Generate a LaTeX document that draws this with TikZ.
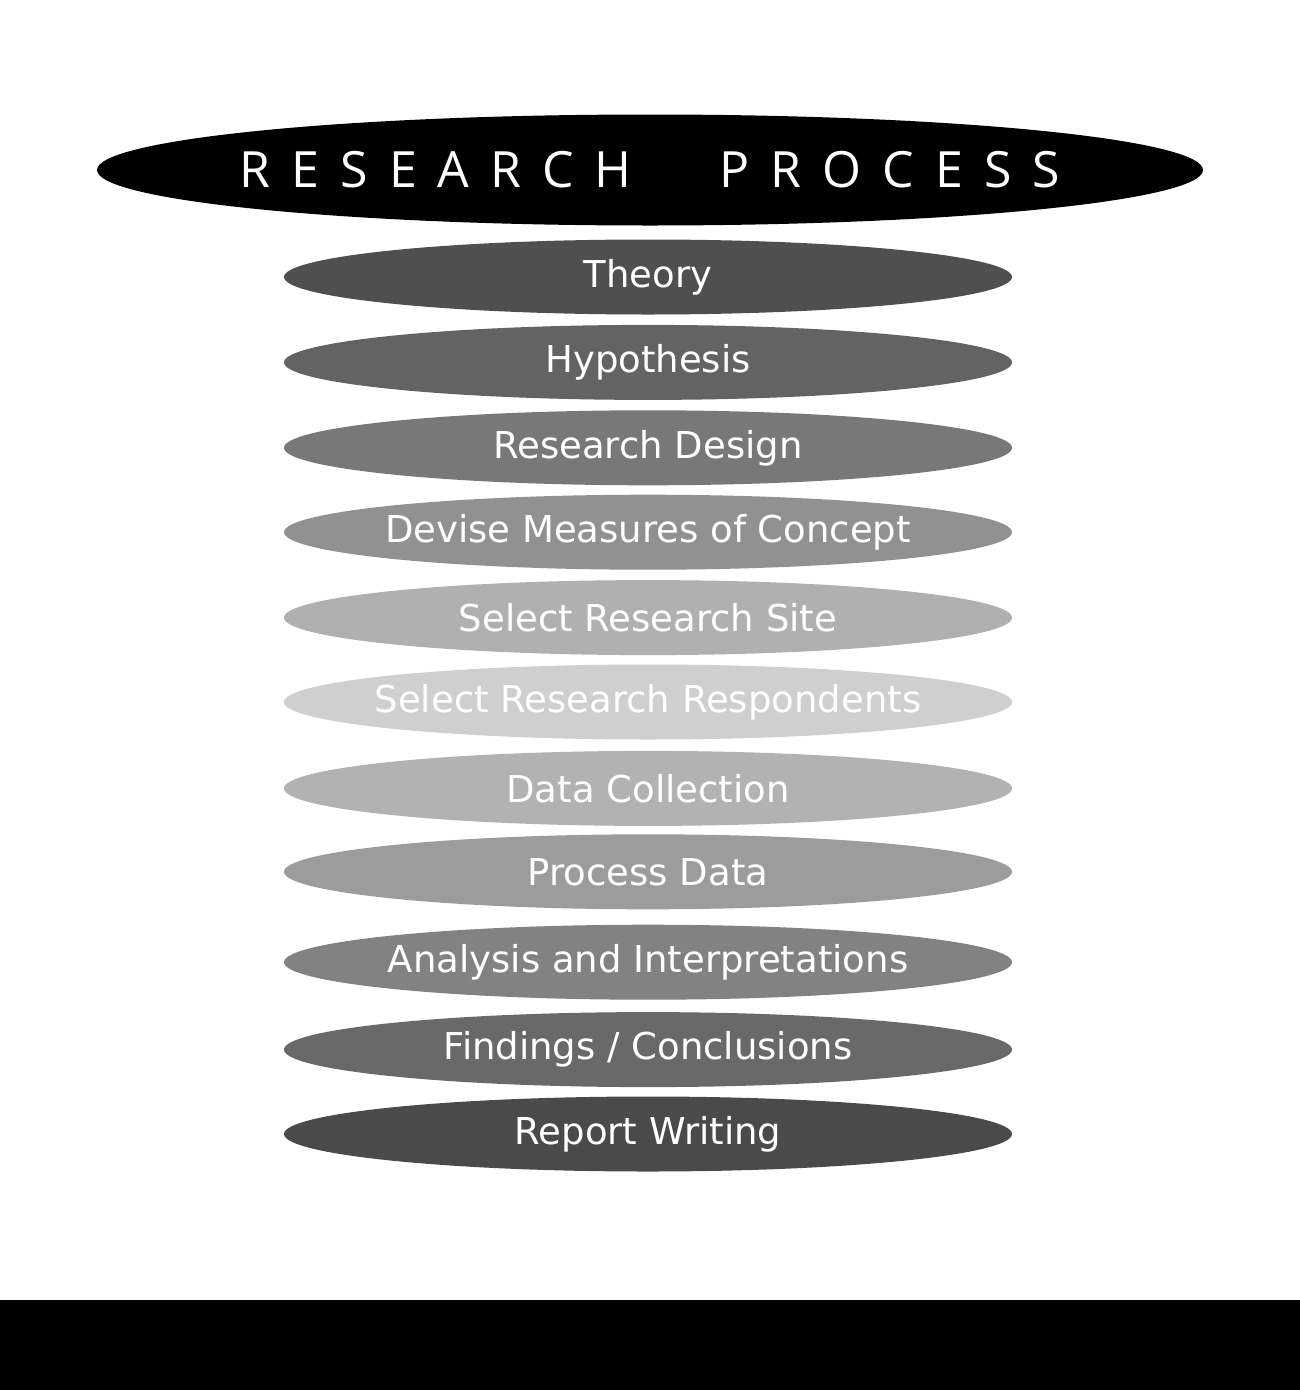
\documentclass[tikz,border=0pt]{standalone}
\usepackage{fontspec}
\setmainfont{DejaVu Sans}
\newfontfamily\titlefont[LetterSpace=42]{Open Sans}
\usetikzlibrary{positioning,shapes}

\begin{document}
\begin{tikzpicture}[x=1pt,y=1pt,node distance=10pt,inner ysep=0pt,inner xsep=-250pt,
 every node/.style={ellipse,text=white,anchor=center,align=center,font=\fontsize{37}{42}\selectfont},
 stage/.style={minimum width=728pt,minimum height=75pt}]

  \useasboundingbox (0,0) rectangle (1300,-1390);
  \fill[white] (0,0) rectangle (1300,-1300);
  \fill[black] (0,-1300) rectangle (1300,-1390);

  \node[fill=black,minimum width=1106pt,minimum height=111pt,
   font=\titlefont\fontsize{50}{56}\selectfont] (title) at (650,-170)
   {RESEARCH\hspace{88pt}PROCESS};

  \node[stage,fill=black!69] (theory) at (648,-277) {Theory};
  \node[stage,fill=black!61,below=of theory] (hypo) {Hypothesis};
  \node[stage,fill=black!53,below=of hypo] (design) {Research Design};
  \node[stage,fill=black!43,below=9pt of design] (measures) {Devise Measures of Concept};
  \node[stage,fill=black!31,below=of measures] (site) {Select Research Site};
  \node[stage,fill=black!19,below=9pt of site] (respondents) {Select Research Respondents};
  \node[stage,fill=black!30,below=11pt of respondents] (collection) {Data Collection};
  \node[stage,fill=black!39,below=8pt of collection] (process) {Process Data};
  \node[stage,fill=black!49,below=15pt of process] (analysis) {Analysis and Interpretations};
  \node[stage,fill=black!59,below=12pt of analysis] (findings) {Findings / Conclusions};
  \node[stage,fill=black!71,below=9pt of findings] (report) {Report Writing};

\end{tikzpicture}
\end{document}
